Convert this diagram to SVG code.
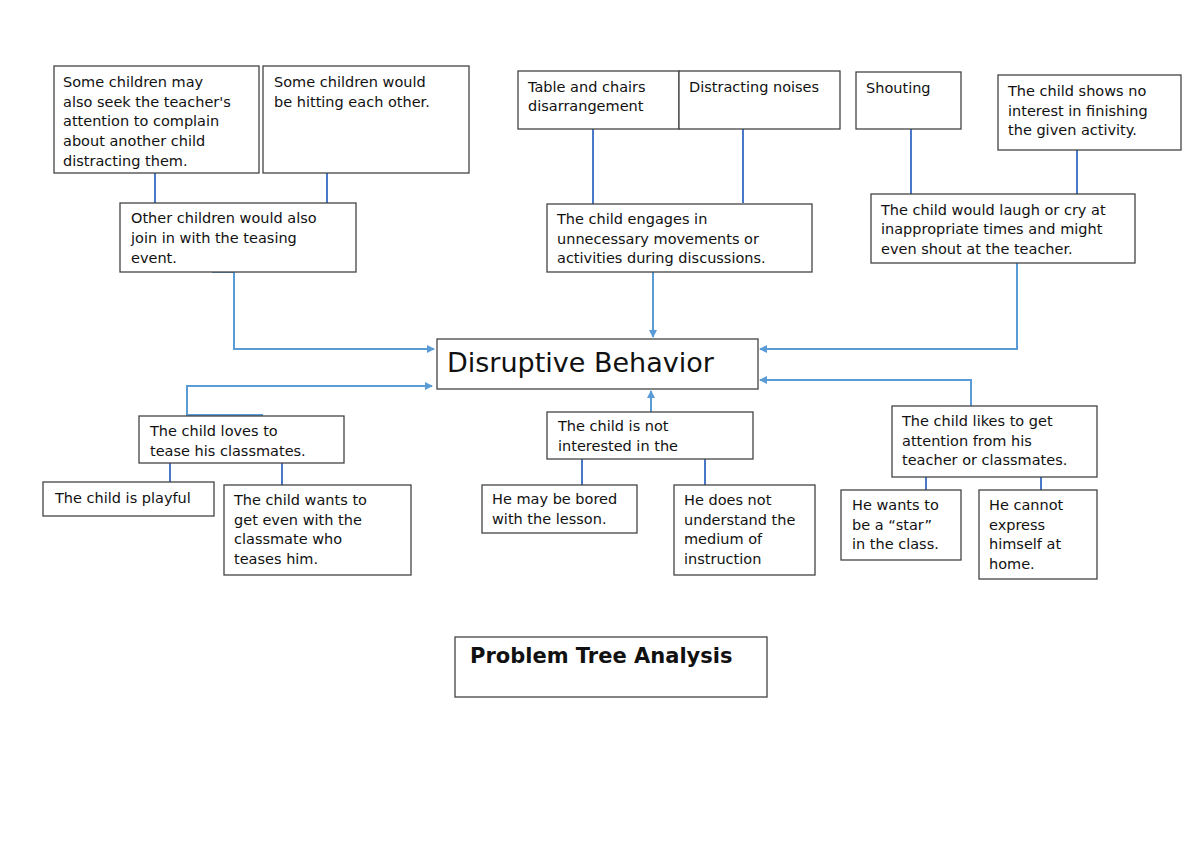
<svg xmlns="http://www.w3.org/2000/svg" width="1200" height="848" viewBox="0 0 1200 848">
<style>
rect{fill:#fff;stroke:#444;stroke-width:1.3}
text{font-family:"DejaVu Sans",sans-serif;font-size:14.5px;fill:#111}
.c{fill:none;stroke:#5b9bd5;stroke-width:2}
.d{fill:none;stroke:#4a78c8;stroke-width:2}
</style>
<defs><marker id="a" markerWidth="8" markerHeight="8" refX="7" refY="4" orient="auto" markerUnits="userSpaceOnUse"><path d="M0,0L8,4L0,8z" fill="#5b9bd5"/></marker></defs>
<rect x="0" y="0" width="1200" height="848" style="stroke:none"/>
<g id="connectors">
<path class="d" d="M155,173V203M327,173V203M593,129V204M743,129V203M911,129V194M1077,150V194M170,463V482M282,463V485M582,459V485M705,459V485M926,477V490M1041,477V490"/>
<path class="c" d="M212,272H234V349H434" marker-end="url(#a)"/>
<path class="c" d="M263,415H187V386H432" marker-end="url(#a)"/>
<path class="c" d="M653,272V337" marker-end="url(#a)"/>
<path class="c" d="M1017,263V349H760" marker-end="url(#a)"/>
<path class="c" d="M651,412V391" marker-end="url(#a)"/>
<path class="c" d="M971,406V380H760" marker-end="url(#a)"/>
</g>
<g id="n1"><rect x="54" y="66" width="205" height="107"/><text x="63" y="87">Some children may</text><text x="63" y="107">also seek the teacher's</text><text x="63" y="126">attention to complain</text><text x="63" y="146">about another child</text><text x="63" y="166">distracting them.</text></g>
<g id="n2"><rect x="263" y="66" width="206" height="107"/><text x="274" y="87">Some children would</text><text x="274" y="107">be hitting each other.</text></g>
<g id="n3"><rect x="120" y="203" width="236" height="69"/><text x="131" y="223">Other children would also</text><text x="131" y="243">join in with the teasing</text><text x="131" y="263">event.</text></g>
<g id="n4"><rect x="518" y="71" width="161" height="58"/><text x="528" y="92">Table and chairs</text><text x="528" y="111">disarrangement</text></g>
<g id="n5"><rect x="679" y="71" width="161" height="58"/><text x="689" y="92">Distracting noises</text></g>
<g id="n6"><rect x="547" y="204" width="265" height="68"/><text x="557" y="224">The child engages in</text><text x="557" y="244">unnecessary movements or</text><text x="557" y="263">activities during discussions.</text></g>
<g id="n7"><rect x="856" y="72" width="105" height="57"/><text x="866" y="93">Shouting</text></g>
<g id="n8"><rect x="998" y="75" width="183" height="75"/><text x="1008" y="96">The child shows no</text><text x="1008" y="116">interest in finishing</text><text x="1008" y="135">the given activity.</text></g>
<g id="n9"><rect x="871" y="194" width="264" height="69"/><text x="881" y="215">The child would laugh or cry at</text><text x="881" y="234">inappropriate times and might</text><text x="881" y="254">even shout at the teacher.</text></g>
<g id="n10"><rect x="437" y="339" width="321" height="50"/><text x="447" y="372" style="font-size:27px">Disruptive Behavior</text></g>
<g id="n11"><rect x="139" y="416" width="205" height="47"/><text x="150" y="436">The child loves to</text><text x="150" y="456">tease his classmates.</text></g>
<g id="n12"><rect x="43" y="482" width="171" height="34"/><text x="55" y="503">The child is playful</text></g>
<g id="n13"><rect x="224" y="485" width="187" height="90"/><text x="234" y="505">The child wants to</text><text x="234" y="525">get even with the</text><text x="234" y="544">classmate who</text><text x="234" y="564">teases him.</text></g>
<g id="n14"><rect x="547" y="412" width="206" height="47"/><text x="558" y="431">The child is not</text><text x="558" y="451">interested in the</text></g>
<g id="n15"><rect x="482" y="485" width="155" height="48"/><text x="492" y="504">He may be bored</text><text x="492" y="524">with the lesson.</text></g>
<g id="n16"><rect x="674" y="485" width="141" height="90"/><text x="684" y="505">He does not</text><text x="684" y="525">understand the</text><text x="684" y="544">medium of</text><text x="684" y="564">instruction</text></g>
<g id="n17"><rect x="892" y="406" width="205" height="71"/><text x="902" y="426">The child likes to get</text><text x="902" y="446">attention from his</text><text x="902" y="465">teacher or classmates.</text></g>
<g id="n18"><rect x="841" y="490" width="120" height="70"/><text x="852" y="510">He wants to</text><text x="852" y="530">be a “star”</text><text x="852" y="549">in the class.</text></g>
<g id="n19"><rect x="979" y="490" width="118" height="89"/><text x="989" y="510">He cannot</text><text x="989" y="530">express</text><text x="989" y="549">himself at</text><text x="989" y="569">home.</text></g>
<g id="title"><rect x="455" y="637" width="312" height="60"/><text x="470" y="663" style="font-size:21px;font-weight:bold">Problem Tree Analysis</text></g>
</svg>
